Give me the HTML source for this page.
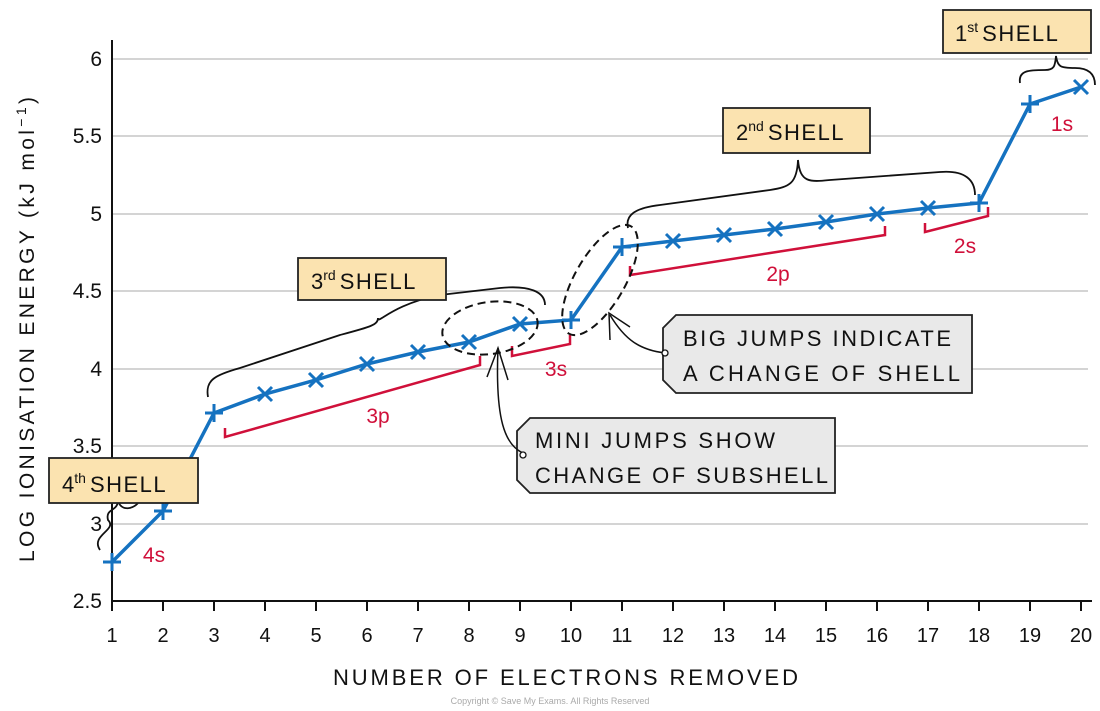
<!DOCTYPE html>
<html><head><meta charset="utf-8"><style>
html,body{margin:0;padding:0;background:#fff;}
svg{display:block;font-family:"Liberation Sans",sans-serif;}
</style></head><body>
<svg width="1100" height="711" viewBox="0 0 1100 711" xmlns="http://www.w3.org/2000/svg">
<g stroke="#d4d4d4" stroke-width="2">
<line x1="112" y1="59" x2="1088" y2="59"/><line x1="112" y1="136" x2="1088" y2="136"/>
<line x1="112" y1="214" x2="1088" y2="214"/><line x1="112" y1="291" x2="1088" y2="291"/>
<line x1="112" y1="369" x2="1088" y2="369"/><line x1="112" y1="446" x2="1088" y2="446"/>
<line x1="112" y1="524" x2="1088" y2="524"/>
</g>
<g stroke="#111" stroke-width="2" fill="none">
<line x1="112" y1="40" x2="112" y2="603"/><line x1="111" y1="601" x2="1092" y2="601"/>
<path d="M112 601v10M163 601v10M214 601v10M265 601v10M316 601v10M367 601v10M418 601v10M469 601v10M520 601v10M571 601v10M622 601v10M673 601v10M724 601v10M775 601v10M826 601v10M877 601v10M928 601v10M979 601v10M1030 601v10M1081 601v10"/>
</g>
<g font-size="20" fill="#111" text-anchor="middle">
<text x="112" y="642">1</text><text x="163" y="642">2</text><text x="214" y="642">3</text><text x="265" y="642">4</text><text x="316" y="642">5</text><text x="367" y="642">6</text><text x="418" y="642">7</text><text x="469" y="642">8</text><text x="520" y="642">9</text><text x="571" y="642">10</text><text x="622" y="642">11</text><text x="673" y="642">12</text><text x="724" y="642">13</text><text x="775" y="642">14</text><text x="826" y="642">15</text><text x="877" y="642">16</text><text x="928" y="642">17</text><text x="979" y="642">18</text><text x="1030" y="642">19</text><text x="1081" y="642">20</text>
</g>
<g font-size="21" fill="#111" text-anchor="end">
<text x="102" y="66">6</text><text x="102" y="143">5.5</text><text x="102" y="221">5</text><text x="102" y="298">4.5</text><text x="102" y="376">4</text><text x="102" y="453">3.5</text><text x="102" y="531">3</text><text x="102" y="608">2.5</text>
</g>
<text x="333" y="685" font-size="22" fill="#111" textLength="465" lengthAdjust="spacing">NUMBER  OF  ELECTRONS  REMOVED</text>
<text transform="translate(34,562) rotate(-90)" font-size="21" fill="#111" textLength="465" lengthAdjust="spacing">LOG  IONISATION  ENERGY  (kJ mol<tspan font-size="14" dy="-8">−1</tspan><tspan dy="8">)</tspan></text>
<text x="550" y="704" font-size="9" fill="#aaa" text-anchor="middle">Copyright © Save My Exams. All Rights Reserved</text>
<polyline fill="none" stroke="#1572c0" stroke-width="3.5" points="112,562 163,511 214,413 265,394 316,380 367,364 418,352 469,342 520,324 571,320 622,247 673,241 724,235 775,229 826,222 877,214 928,208 979,203 1030,104 1081,87"/>
<g stroke="#1572c0" stroke-width="3" fill="none">
<path d="M103,562h18M112,553v18"/><path d="M154,511h18M163,502v18"/><path d="M205,413h18M214,404v18"/>
<path d="M258,387l14,14M258,401l14,-14"/><path d="M309,373l14,14M309,387l14,-14"/><path d="M360,357l14,14M360,371l14,-14"/><path d="M411,345l14,14M411,359l14,-14"/><path d="M462,335l14,14M462,349l14,-14"/><path d="M513,317l14,14M513,331l14,-14"/>
<path d="M562,320h18M571,311v18"/><path d="M613,247h18M622,238v18"/>
<path d="M666,234l14,14M666,248l14,-14"/><path d="M717,228l14,14M717,242l14,-14"/><path d="M768,222l14,14M768,236l14,-14"/><path d="M819,215l14,14M819,229l14,-14"/><path d="M870,207l14,14M870,221l14,-14"/><path d="M921,201l14,14M921,215l14,-14"/>
<path d="M970,203h18M979,194v18"/><path d="M1021,104h18M1030,95v18"/><path d="M1074,80l14,14M1074,94l14,-14"/>
</g>
<g stroke="#d0103a" stroke-width="2.5" fill="none">
<path d="M225,428v9L480,365v-9"/><path d="M512,346v10L570,344v-9"/>
<path d="M630,266v9L885,235v-9"/><path d="M925,223v9L988,216v-9"/>
</g>
<g fill="#d0103a" font-size="21" text-anchor="middle">
<text x="154" y="562">4s</text><text x="378" y="423">3p</text><text x="556" y="376">3s</text><text x="778" y="281">2p</text><text x="965" y="253">2s</text><text x="1062" y="131">1s</text>
</g>
<g stroke="#111" stroke-width="1.8" fill="none">
<path d="M208,397 C205,380 215,375 240,368 L340,335 C370,327 378,325 378,318 C378,325 390,305 440,295 L500,288 C530,285 545,292 545,305"/>
<path d="M628,228 C625,215 635,208 660,205 L770,190 C790,187 797,183 798,160 C800,183 810,182 830,180 L940,172 C965,170 975,180 975,195"/>
<path d="M1020,83 C1018,70 1030,70 1045,70 C1055,70 1055,65 1056,56 C1058,67 1060,68 1075,68 C1090,68 1095,75 1095,85"/>
<path d="M100,550 C90,535 118,530 108,520 C105,508 118,512 118,500 C120,512 135,510 140,500"/>
</g>
<g stroke="#111" stroke-width="2" fill="none" stroke-dasharray="8,5">
<ellipse cx="490" cy="328" rx="48" ry="26" transform="rotate(-8 490 328)"/>
<ellipse cx="600" cy="280" rx="25" ry="62" transform="rotate(30 600 280)"/>
</g>
<g stroke="#222" stroke-width="1.8">
<rect x="49" y="458" width="149" height="45" fill="#fbe3b0"/>
<rect x="298" y="258" width="148" height="42" fill="#fbe3b0"/>
<rect x="723" y="108" width="147" height="45" fill="#fbe3b0"/>
<rect x="943" y="10" width="148" height="43" fill="#fbe3b0"/>
<path d="M676,315 H972 V393 H676 L663,380 V328 Z" fill="#e9e9e9"/>
<path d="M530,418 H835 V493 H530 L517,480 V431 Z" fill="#e9e9e9"/>
</g>
<g font-size="22" fill="#111">
<text x="62" y="492">4<tspan font-size="14" dy="-9">th</tspan><tspan dy="9" dx="4" letter-spacing="1.5">SHELL</tspan></text>
<text x="311" y="289">3<tspan font-size="14" dy="-9">rd</tspan><tspan dy="9" dx="4" letter-spacing="1.5">SHELL</tspan></text>
<text x="736" y="140">2<tspan font-size="14" dy="-9">nd</tspan><tspan dy="9" dx="4" letter-spacing="1.5">SHELL</tspan></text>
<text x="955" y="41">1<tspan font-size="14" dy="-9">st</tspan><tspan dy="9" dx="4" letter-spacing="1.5">SHELL</tspan></text>
<text x="683" y="346" textLength="268" lengthAdjust="spacing">BIG  JUMPS  INDICATE</text>
<text x="683" y="381" textLength="277" lengthAdjust="spacing">A  CHANGE  OF  SHELL</text>
<text x="535" y="448" textLength="240" lengthAdjust="spacing">MINI  JUMPS  SHOW</text>
<text x="535" y="483" textLength="293" lengthAdjust="spacing">CHANGE  OF  SUBSHELL</text>
</g>
<g stroke="#111" stroke-width="1.5" fill="none">
<path d="M665,353 C640,350 625,340 610,315"/><path d="M610,340 L609,313 L630,327"/>
<path d="M523,453 C505,445 495,420 498,348"/><path d="M487,377 L498,348 L508,380"/>
</g>
<circle cx="665" cy="353" r="3" fill="#fff" stroke="#111" stroke-width="1.3"/>
<circle cx="523" cy="455" r="3" fill="#fff" stroke="#111" stroke-width="1.3"/>
</svg>
</body></html>
